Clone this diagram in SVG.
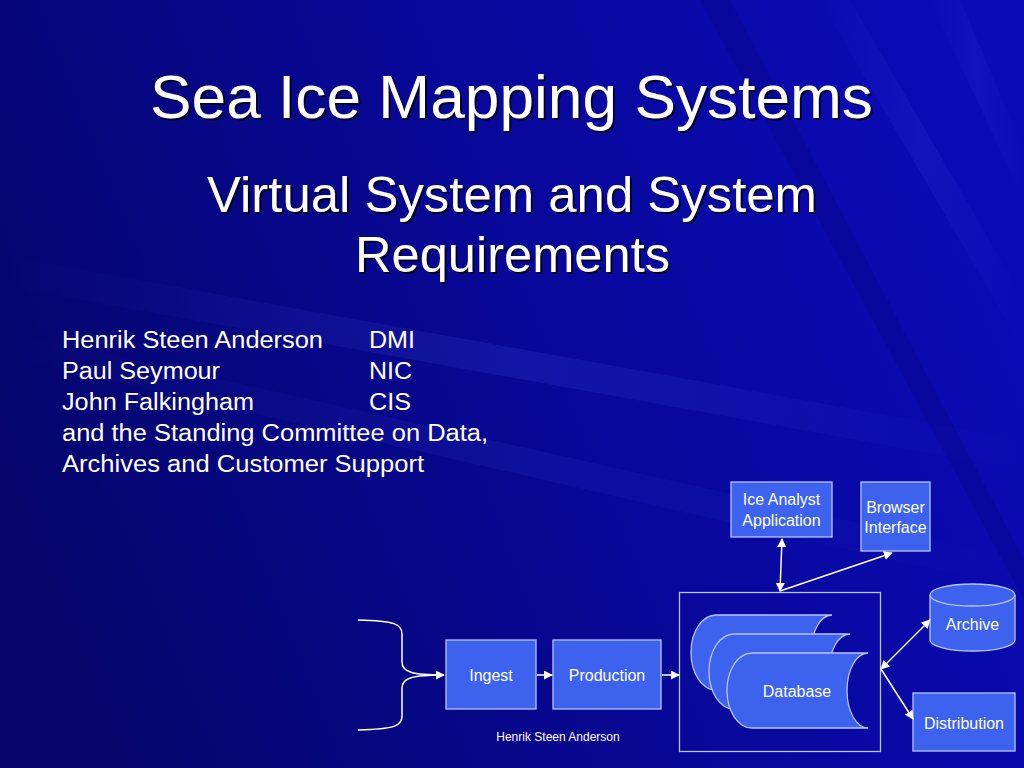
<svg xmlns="http://www.w3.org/2000/svg" width="1024" height="768" viewBox="0 0 1024 768">
<defs>
<linearGradient id="bg" x1="0" y1="0.6" x2="1" y2="0.3">
<stop offset="0" stop-color="#05056c"/>
<stop offset="0.55" stop-color="#08089a"/>
<stop offset="1" stop-color="#0b0bb8"/>
</linearGradient>
<linearGradient id="streak" x1="0" y1="0" x2="1" y2="0">
<stop offset="0" stop-color="#5a6cff" stop-opacity="0"/>
<stop offset="0.5" stop-color="#5a6cff" stop-opacity="0.14"/>
<stop offset="1" stop-color="#5a6cff" stop-opacity="0"/>
</linearGradient>
<marker id="ah" viewBox="0 0 10 10" refX="9" refY="5" markerWidth="9" markerHeight="9" markerUnits="userSpaceOnUse" orient="auto-start-reverse">
<path d="M0,0 L10,5 L0,10 z" fill="#ffffff"/>
</marker>
</defs>
<style>
.t{font-family:"Liberation Sans",Arial,sans-serif;fill:#ffffff}
.sh{font-family:"Liberation Sans",Arial,sans-serif;fill:#000000;opacity:0.75}
.box{fill:#3d62ee;stroke:#b8c4ff;stroke-width:1.3}
.lbl{font-family:"Liberation Sans",Arial,sans-serif;fill:#ffffff;font-size:16px;text-anchor:middle}
.ln{stroke:#ffffff;stroke-width:1.5;fill:none}
</style>
<rect width="1024" height="768" fill="url(#bg)"/>
<g id="background-streaks">
<polygon points="0,255 1024,440 1024,470 0,285" fill="url(#streak)"/>
<polygon points="0,330 1024,560 1024,590 0,355" fill="url(#streak)" opacity="0.6"/>
<polygon points="820,0 850,0 1024,300 1024,350" fill="url(#streak)" opacity="0.7"/>
<polygon points="930,0 960,0 1024,150 1024,200" fill="url(#streak)" opacity="0.6"/>
<polygon points="700,0 730,0 1024,560 1024,600" fill="#000040" opacity="0.15"/>
</g>
<g id="title">
<text class="sh" x="152" y="120" font-size="61" textLength="723" lengthAdjust="spacingAndGlyphs">Sea Ice Mapping Systems</text>
<text class="t" x="150" y="118" font-size="61" textLength="723" lengthAdjust="spacingAndGlyphs">Sea Ice Mapping Systems</text>
<text class="sh" x="209" y="214" font-size="50" textLength="610" lengthAdjust="spacingAndGlyphs">Virtual System and System</text>
<text class="t" x="207" y="212" font-size="50" textLength="610" lengthAdjust="spacingAndGlyphs">Virtual System and System</text>
<text class="sh" x="357" y="274" font-size="50" textLength="315" lengthAdjust="spacingAndGlyphs">Requirements</text>
<text class="t" x="355" y="272" font-size="50" textLength="315" lengthAdjust="spacingAndGlyphs">Requirements</text>
</g>
<g id="authors" font-size="23">
<text class="t" x="62" y="348" textLength="261" lengthAdjust="spacingAndGlyphs">Henrik Steen Anderson</text>
<text class="t" x="369" y="348" textLength="46" lengthAdjust="spacingAndGlyphs">DMI</text>
<text class="t" x="62" y="379" textLength="158" lengthAdjust="spacingAndGlyphs">Paul Seymour</text>
<text class="t" x="369" y="379" textLength="43" lengthAdjust="spacingAndGlyphs">NIC</text>
<text class="t" x="62" y="410" textLength="192" lengthAdjust="spacingAndGlyphs">John Falkingham</text>
<text class="t" x="369" y="410" textLength="42" lengthAdjust="spacingAndGlyphs">CIS</text>
<text class="t" x="62" y="441" textLength="426" lengthAdjust="spacingAndGlyphs">and the Standing Committee on Data,</text>
<text class="t" x="62" y="472" textLength="362" lengthAdjust="spacingAndGlyphs">Archives and Customer Support</text>
</g>
<g id="container">
<rect x="679.5" y="592.5" width="201" height="159" fill="none" stroke="#b8c4ff" stroke-width="1.3"/>
</g>
<g id="db1">
<path class="box" d="M832,615 L716,615 A25,37.5 0 0 0 716,690 L832,690 A21,37.5 0 0 1 832,615 z"/>
</g>
<g id="db2">
<path class="box" d="M850,634 L734,634 A25,37.5 0 0 0 734,709 L850,709 A21,37.5 0 0 1 850,634 z"/>
</g>
<g id="db3">
<path class="box" d="M868,653 L752,653 A25,37.5 0 0 0 752,728 L868,728 A21,37.5 0 0 1 868,653 z"/>
<text class="lbl" x="797" y="697">Database</text>
</g>
<g id="ice-analyst">
<rect class="box" x="731" y="482" width="101" height="55"/>
<text class="lbl" x="781.5" y="505">Ice Analyst</text>
<text class="lbl" x="781.5" y="526">Application</text>
</g>
<g id="browser">
<rect class="box" x="861" y="482" width="69" height="69"/>
<text class="lbl" x="895.5" y="513">Browser</text>
<text class="lbl" x="895.5" y="533">Interface</text>
</g>
<g id="archive">
<path class="box" d="M930,595 L930,640 A42.5,11 0 0 0 1015,640 L1015,595 A42.5,11 0 0 0 930,595 z"/>
<path d="M930,595 A42.5,11 0 0 0 1015,595" fill="none" stroke="#b8c4ff" stroke-width="1.3"/>
<text class="lbl" x="972.5" y="630">Archive</text>
</g>
<g id="distribution">
<rect class="box" x="913" y="693" width="102" height="58"/>
<text class="lbl" x="964" y="729">Distribution</text>
</g>
<g id="ingest">
<rect class="box" x="446" y="640" width="90" height="69"/>
<text class="lbl" x="491" y="681">Ingest</text>
</g>
<g id="production">
<rect class="box" x="553" y="640" width="108" height="69"/>
<text class="lbl" x="607" y="681">Production</text>
</g>
<g id="connectors">
<path class="ln" d="M358,620 C395,621 402,624 402,634 L402,662 C402,672 412,675 444,675"/>
<path class="ln" d="M358,730 C395,729 402,726 402,716 L402,688 C402,678 412,675 444,675" marker-end="url(#ah)"/>
<line class="ln" x1="537" y1="675" x2="552" y2="675" marker-end="url(#ah)"/>
<line class="ln" x1="662" y1="675" x2="679" y2="675" marker-end="url(#ah)"/>
<line class="ln" x1="780" y1="591" x2="782" y2="539" marker-start="url(#ah)" marker-end="url(#ah)"/>
<line class="ln" x1="780" y1="591" x2="892" y2="553" marker-end="url(#ah)"/>
<line class="ln" x1="881" y1="669" x2="930" y2="620" marker-start="url(#ah)" marker-end="url(#ah)"/>
<line class="ln" x1="881" y1="669" x2="913" y2="719" marker-end="url(#ah)"/>
</g>
<g id="footer">
<text class="t" x="558" y="741" font-size="12" text-anchor="middle">Henrik Steen Anderson</text>
</g>
</svg>
